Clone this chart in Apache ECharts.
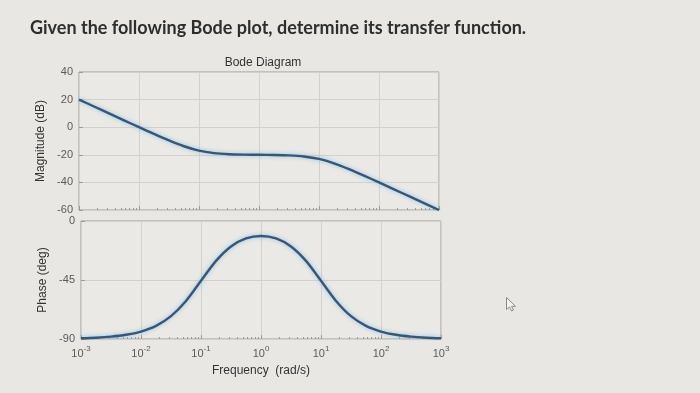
<!DOCTYPE html>
<html>
<head>
<meta charset="utf-8">
<script src="https://cdn.jsdelivr.net/npm/echarts@6/dist/echarts.min.js"></script>
<style>
html,body{margin:0;padding:0;background:#e8e7e4;}
#c{width:700px;height:393px;}
</style>
</head>
<body>
<div id="c"></div>
<script>
// Data
const freq = [0.001, 0.00178, 0.00316, 0.00562, 0.01, 0.0178, 0.0316, 0.0562, 0.1, 0.178, 0.316, 0.562, 1, 1.78, 3.16, 5.62, 10, 17.8, 31.6, 56.2, 100, 178, 316, 562, 1000];
const magnitudeDb = [20, 15, 10, 5, 0, -4.9, -9.6, -13.8, -17.0, -18.8, -19.6, -19.9, -20.0, -20.1, -20.4, -21.2, -23.0, -26.2, -30.4, -35.1, -40.0, -45.0, -50.0, -55.0, -60.0];
const phaseDeg = [-89.4, -89.0, -88.2, -86.8, -84.3, -80.0, -72.6, -61.0, -45.6, -30.4, -19.4, -13.3, -11.4, -13.3, -19.4, -30.4, -45.6, -61.0, -72.6, -80.0, -84.3, -86.8, -88.2, -89.0, -89.4];
const xTickExponents = ['-3', '-2', '-1', '0', '1', '2', '3'];
const magTicks = [-60, -40, -20, 0, 20, 40];
const phaseTicks = [-90, -45, 0];

const mainTitle = 'Given the following Bode plot, determine its transfer function.';
const plotTitle = 'Bode Diagram';

const magData = freq.map((f, i) => [f, magnitudeDb[i]]);
const phaseData = freq.map((f, i) => [f, phaseDeg[i]]);

const chart = echarts.init(document.getElementById('c'), null, {renderer: 'canvas'});
const gridBorder = '#9b9b9b';
const splitColor = '#d2d1ce';
const labelColor = '#5a5a5a';
const lineStyle = {color: '#3b5671', width: 2.4, shadowColor: 'rgba(120,190,235,0.9)', shadowBlur: 4};

const xBase = {
  type: 'log', logBase: 10, min: 0.001, max: 1000,
  axisLine: {show: false, onZero: false},
  axisTick: {show: true, inside: true, length: 4, lineStyle: {color: gridBorder}},
  minorTick: {show: true, splitNumber: 9, length: 2, lineStyle: {color: gridBorder}},
  splitLine: {show: true, lineStyle: {color: splitColor, width: 1}},
  minorSplitLine: {show: false}
};

chart.setOption({
  backgroundColor: '#e8e7e4',
  animation: false,
  title: [
    {text: mainTitle, left: 25, top: 14,
     textStyle: {fontFamily: 'Lato', fontWeight: 'bold', fontSize: 18, color: '#2e2e2e'}},
    {text: plotTitle, left: 258, top: 52, textAlign: 'center',
     textStyle: {fontFamily: 'Liberation Sans', fontWeight: 'normal', fontSize: 12, color: '#333'}}
  ],
  grid: [
    {left: 79, top: 72, width: 360, height: 138, show: true, borderColor: gridBorder, borderWidth: 1, backgroundColor: '#eae9e6'},
    {left: 81, top: 221, width: 360, height: 118, show: true, borderColor: gridBorder, borderWidth: 1, backgroundColor: '#eae9e6'}
  ],
  xAxis: [
    Object.assign({}, xBase, {gridIndex: 0, axisLabel: {show: false}}),
    Object.assign({}, xBase, {
      gridIndex: 1,
      name: 'Frequency  (rad/s)', nameLocation: 'middle', nameGap: 26,
      nameTextStyle: {fontFamily: 'Liberation Sans', fontSize: 12, color: '#333'},
      axisLabel: {
        margin: 6,
        formatter: (v, i) => '{b|10}{s|' + xTickExponents[i] + '}',
        rich: {
          b: {fontFamily: 'Liberation Sans', fontSize: 11, color: labelColor, verticalAlign: 'bottom'},
          s: {fontFamily: 'Liberation Sans', fontSize: 8, color: labelColor, verticalAlign: 'top', padding: [0, 0, 6, 0]}
        }
      }
    })
  ],
  yAxis: [
    {gridIndex: 0, type: 'value', min: magTicks[0], max: magTicks[magTicks.length - 1], interval: 20,
     name: 'Magnitude (dB)', nameLocation: 'middle', nameGap: 28,
     nameTextStyle: {fontFamily: 'Liberation Sans', fontSize: 12, color: '#333'},
     axisLine: {show: false},
     axisTick: {show: true, inside: true, length: 4, lineStyle: {color: gridBorder}},
     axisLabel: {fontFamily: 'Liberation Sans', fontSize: 11, color: labelColor, margin: 6},
     splitLine: {show: true, lineStyle: {color: splitColor}}},
    {gridIndex: 1, type: 'value', min: phaseTicks[0], max: phaseTicks[phaseTicks.length - 1], interval: 45,
     name: 'Phase (deg)', nameLocation: 'middle', nameGap: 30,
     nameTextStyle: {fontFamily: 'Liberation Sans', fontSize: 12, color: '#333'},
     axisLine: {show: false},
     axisTick: {show: true, inside: true, length: 4, lineStyle: {color: gridBorder}},
     axisLabel: {fontFamily: 'Liberation Sans', fontSize: 11, color: labelColor, margin: 6},
     splitLine: {show: true, lineStyle: {color: splitColor}}}
  ],
  graphic: [
    {type: 'polygon', left: 506, top: 297, silent: true,
     shape: {points: [[0, 0], [0, 12], [3, 9.5], [5, 13.5], [7, 12.5], [5, 8.8], [9, 8.8]]},
     style: {fill: '#f2f2f0', stroke: '#8a8a8a', lineWidth: 1}}
  ],
  series: [
    {type: 'line', xAxisIndex: 0, yAxisIndex: 0, data: magData, smooth: 0.3, showSymbol: false, lineStyle: lineStyle},
    {type: 'line', xAxisIndex: 1, yAxisIndex: 1, data: phaseData, smooth: 0.3, showSymbol: false, lineStyle: lineStyle}
  ]
});
</script>
</body>
</html>
